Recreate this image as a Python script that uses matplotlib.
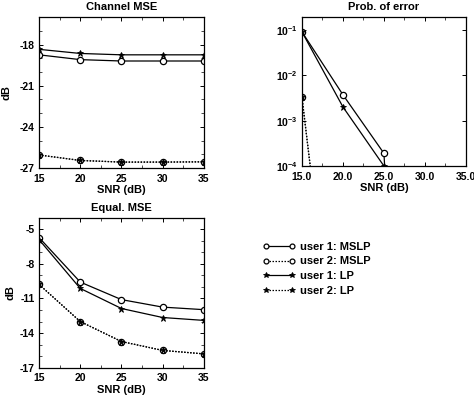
import matplotlib
matplotlib.use("Agg")
import matplotlib.pyplot as plt
from matplotlib.ticker import MultipleLocator, FixedLocator, NullLocator, FormatStrFormatter
from matplotlib.lines import Line2D

plt.rcParams['font.family'] = ['Liberation Sans', 'DejaVu Sans']
plt.rcParams['font.weight'] = 'bold'
plt.rcParams['axes.unicode_minus'] = False
plt.rcParams['mathtext.fontset'] = 'custom'
plt.rcParams['mathtext.rm'] = 'Liberation Sans:bold'
plt.rcParams['mathtext.bf'] = 'Liberation Sans:bold'
plt.rcParams['mathtext.default'] = 'bf'

snr = [15, 20, 25, 30, 35]

# Channel MSE (dB)
ch_u1_mslp = [-18.75, -19.1, -19.2, -19.2, -19.2]
ch_u2_mslp = [-26.05, -26.45, -26.57, -26.57, -26.55]
ch_u1_lp = [-18.35, -18.65, -18.75, -18.75, -18.75]
ch_u2_lp = [-26.05, -26.45, -26.57, -26.57, -26.55]

# Prob. of error
pe_snr = [15, 20, 25, 30]
pe_u1_mslp = [0.09, 0.0037, 1.9e-4, 1e-20]
pe_u1_lp = [0.09, 0.002, 1.0e-4]
pe_snr2 = [15, 20]
pe_u2_mslp = [0.0033, 1e-10]
pe_u2_lp = [0.0033, 1e-10]

# Equal. MSE (dB)
eq_u1_mslp = [-5.72, -9.58, -11.1, -11.75, -11.97]
eq_u2_mslp = [-9.78, -13.0, -14.73, -15.5, -15.8]
eq_u1_lp = [-5.9, -10.13, -11.87, -12.65, -12.9]
eq_u2_lp = [-9.78, -13.0, -14.73, -15.5, -15.8]

labels = ['user 1: MSLP', 'user 2: MSLP', 'user 1: LP', 'user 2: LP']

FS = 7.5
lw = 0.9
ms_o = 4.5
ms_s = 5.0
dot = (0, (1.2, 1.2))

def style_mslp(u):
    return dict(color='black', lw=lw, ls='-' if u == 1 else dot, marker='o',
                ms=ms_o, mfc='white' if u == 1 else 'none', mec='black', mew=0.9)

def style_lp(u):
    return dict(color='black', lw=lw, ls='-' if u == 1 else dot, marker='*',
                ms=ms_s, mfc='black', mec='black', mew=0.6)

fig = plt.figure(figsize=(4.74, 3.95), dpi=100)

def common(ax, title):
    ax.set_title(title, fontsize=FS + 0.5, fontweight='bold', pad=5)
    ax.tick_params(direction='in', which='both', top=True, right=True, labelsize=FS)
    ax.tick_params(axis='y', pad=3)
    ax.tick_params(axis='x', pad=4)
    ax.tick_params(which='major', length=3, width=0.7)
    ax.tick_params(which='minor', length=2, width=0.5)
    for s in ax.spines.values():
        s.set_linewidth(0.9)
    ax.set_xlabel('SNR (dB)', fontsize=FS + 0.5, fontweight='bold', labelpad=1)
    for t in ax.get_xticklabels() + ax.get_yticklabels():
        t.set_fontweight('bold')

# Top-left
ax1 = fig.add_axes([0.0823, 0.5747, 0.348, 0.382])
ax1.plot(snr, ch_u2_mslp, **style_mslp(2))
ax1.plot(snr, ch_u2_lp, **style_lp(2))
ax1.plot(snr, ch_u1_mslp, **style_mslp(1))
ax1.plot(snr, ch_u1_lp, **style_lp(1))
ax1.set_xlim(15, 35)
ax1.set_ylim(-27, -16)
ax1.set_xticks([15, 20, 25, 30, 35])
ax1.set_yticks([-27, -24, -21, -18])
ax1.xaxis.set_minor_locator(MultipleLocator(2.5))
ax1.yaxis.set_minor_locator(MultipleLocator(1))
ax1.set_ylabel('dB', fontsize=FS + 0.5, fontweight='bold', labelpad=6)
common(ax1, 'Channel MSE')

# Top-right
ax2 = fig.add_axes([0.637, 0.5797, 0.346, 0.377])
ax2.set_yscale('log')
ax2.plot(pe_snr2, pe_u2_mslp, **style_mslp(2))
ax2.plot(pe_snr2, pe_u2_lp, **style_lp(2))
ax2.plot(pe_snr, pe_u1_mslp, **style_mslp(1))
ax2.plot(pe_snr[:3], pe_u1_lp, **style_lp(1))
ax2.set_xlim(15, 35)
ax2.set_ylim(1e-4, 0.19)
ax2.set_xticks([15, 20, 25, 30, 35])
ax2.xaxis.set_major_formatter(FormatStrFormatter('%.1f'))
ax2.xaxis.set_minor_locator(MultipleLocator(2.5))
ax2.yaxis.set_major_locator(FixedLocator([1e-4, 1e-3, 1e-2, 1e-1]))
ax2.yaxis.set_minor_locator(NullLocator())
common(ax2, 'Prob. of error')

# Bottom-left
ax3 = fig.add_axes([0.0823, 0.069, 0.348, 0.38])
ax3.plot(snr, eq_u2_mslp, **style_mslp(2))
ax3.plot(snr, eq_u2_lp, **style_lp(2))
ax3.plot(snr, eq_u1_mslp, **style_mslp(1))
ax3.plot(snr, eq_u1_lp, **style_lp(1))
ax3.set_xlim(15, 35)
ax3.set_ylim(-17, -4)
ax3.set_xticks([15, 20, 25, 30, 35])
ax3.set_yticks([-17, -14, -11, -8, -5])
ax3.xaxis.set_minor_locator(MultipleLocator(2.5))
ax3.yaxis.set_minor_locator(MultipleLocator(1))
ax3.set_ylabel('dB', fontsize=FS + 0.5, fontweight='bold', labelpad=3)
common(ax3, 'Equal. MSE')

# Legend
handles = [
    Line2D([], [], **{**style_mslp(1), 'ms': 3.5}),
    Line2D([], [], **{**style_mslp(2), 'ms': 3.5, 'mfc': 'white'}),
    Line2D([], [], **{**style_lp(1), 'ms': 4}),
    Line2D([], [], **{**style_lp(2), 'ms': 4}),
]
fig.legend(handles, labels, loc='upper left', bbox_to_anchor=(0.555, 0.388),
           frameon=False, handlelength=2.9, handletextpad=0.45,
           labelspacing=0.42, borderpad=0, borderaxespad=0, numpoints=2,
           prop={'weight': 'bold', 'size': FS + 0.5})

fig.savefig('out.png', dpi=100)
